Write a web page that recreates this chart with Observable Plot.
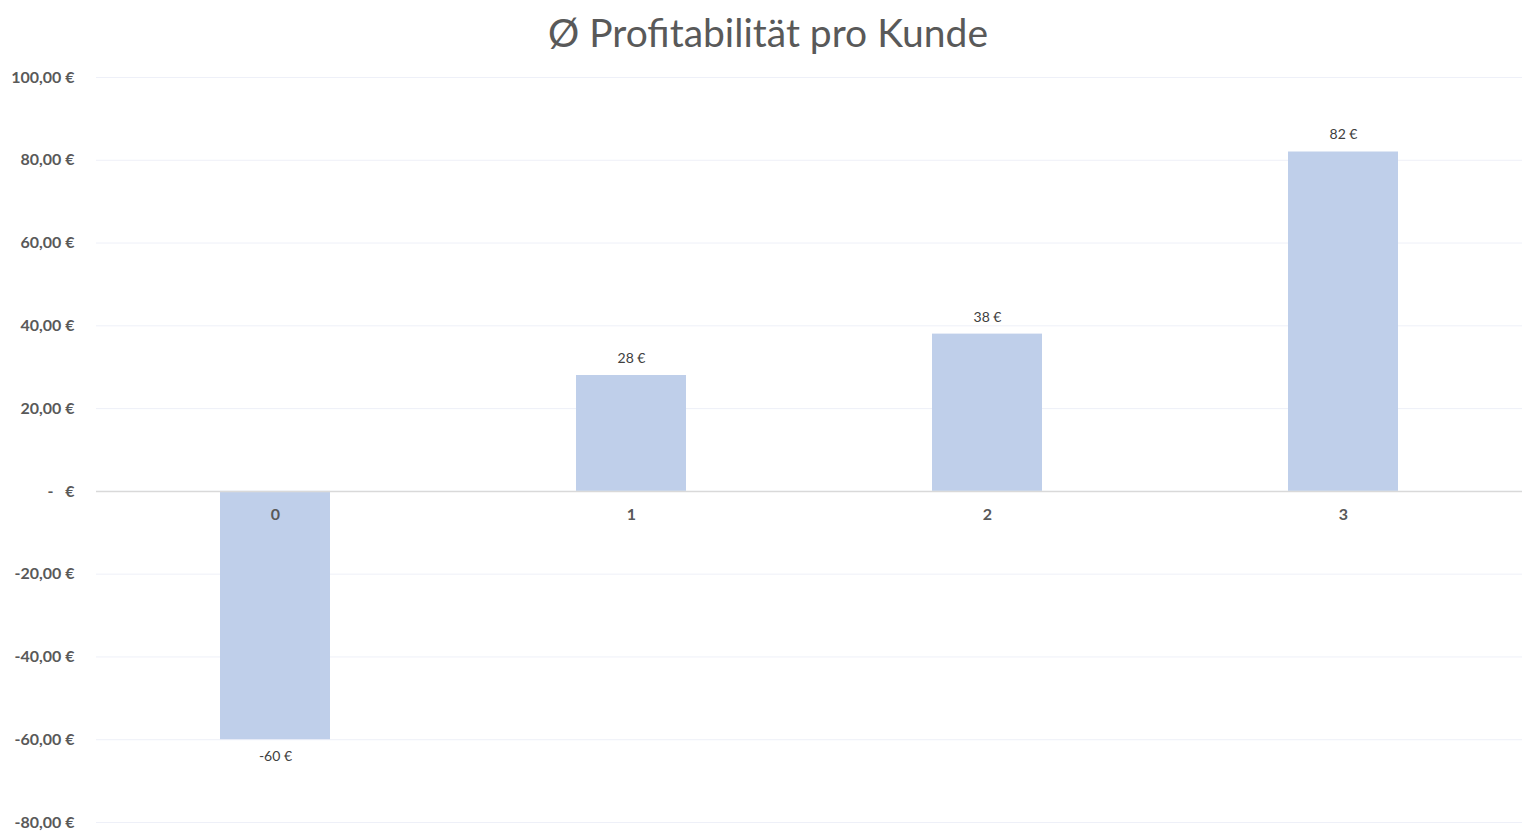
<!DOCTYPE html>
<html>
<head>
<meta charset="utf-8">
<script src="https://cdn.jsdelivr.net/npm/d3@7"></script>
<script src="https://cdn.jsdelivr.net/npm/@observablehq/plot@0.6"></script>
<style>
  body { margin: 0; background: #fff; font-family: Lato, "Open Sans", sans-serif; }
  #title { height: 62px; line-height: 64px; text-align: center; font-size: 39px; color: #595959; font-family: Lato, sans-serif; }
</style>
</head>
<body>
<div id="title">Ø Profitabilität pro Kunde</div>
<div id="chart"></div>
<script>
const categories = ["0", "1", "2", "3"];
const values = [-60, 28, 38, 82];
const yTicks = [-80, -60, -40, -20, 0, 20, 40, 60, 80, 100];

const data = categories.map((c, i) => ({cat: c, value: values[i]}));

const fmtTick = d => d === 0 ? "-\u00a0\u00a0\u00a0€" : d.toFixed(2).replace(".", ",") + " €";

const chart = Plot.plot({
  width: 1536,
  height: 778,
  marginTop: 15,
  marginBottom: 18,
  marginLeft: 96,
  marginRight: 14,
  style: {fontFamily: "Lato, sans-serif", background: "#fff"},
  x: {domain: categories, paddingInner: 0.69, paddingOuter: 0.345, axis: null},
  y: {domain: [-80, 100], ticks: yTicks, axis: null},
  marks: [
    Plot.gridY(yTicks, {stroke: "#eef0f8", strokeOpacity: 1}),
    Plot.axisY({ticks: yTicks, tickFormat: fmtTick, tickSize: 0, tickPadding: 22, label: null,
      fontSize: 16, fontWeight: "bold", fill: "#595959"}),
    Plot.barY(data, {x: "cat", y: "value", fill: "#bfcfea"}),
    Plot.ruleY([0], {stroke: "#d9d9d9", strokeWidth: 1.5}),
    Plot.text(data, {x: "cat", y: 0, text: "cat", dy: 23, fontSize: 16, fontWeight: "bold", fill: "#595959"}),
    Plot.text(data, {x: "cat", y: "value", text: d => d.value + " €",
      fontSize: 14, fill: "#404040", filter: d => d.value >= 0, dy: -17}),
    Plot.text(data, {x: "cat", y: "value", text: d => d.value + " €",
      fontSize: 14, fill: "#404040", filter: d => d.value < 0, dy: 17})
  ]
});
document.getElementById("chart").appendChild(chart);
</script>
</body>
</html>
